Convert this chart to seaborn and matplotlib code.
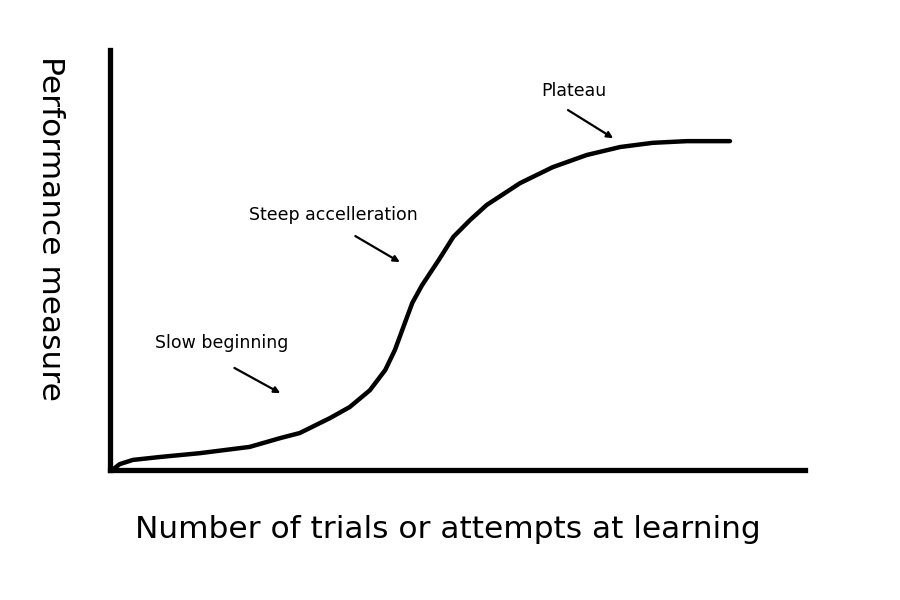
import matplotlib
matplotlib.use("Agg")
import matplotlib.pyplot as plt
import seaborn as sns
import pandas as pd

# Learning curve values (trials %, performance %)
trials = [0.3, 1.4, 3.3, 7.2, 12.9, 20.1, 24.5, 27.3, 31.7, 34.5, 37.4, 39.6, 41.0,
          42.2, 43.5, 44.9, 47.3, 49.4, 51.8, 54.2, 59.0, 63.7, 68.6, 73.4, 78.1, 83.0, 89.2]
performance = [0.0, 1.4, 2.4, 3.1, 4.0, 5.5, 7.6, 8.8, 12.4, 15.0, 19.0, 23.8, 28.6,
               34.0, 39.8, 44.0, 50.0, 55.5, 59.5, 63.1, 68.3, 72.1, 75.0, 76.9, 77.9, 78.3, 78.3]

annot_labels = ["Slow beginning", "Steep accelleration", "Plateau"]
annot_text_xy = [(6.5, 30.2), (20.0, 60.7), (62.0, 90.2)]
annot_tail_xy = [(17.9, 24.3), (35.3, 55.7), (65.9, 85.7)]
annot_head_xy = [(24.5, 18.3), (41.7, 49.5), (72.4, 79.0)]

x_label = "Number of trials or attempts at learning"
y_label = "Performance measure"

sns.set_theme(style="white")
plt.rcParams['font.family'] = ['DejaVu Sans']

fig = plt.figure(figsize=(9, 6), dpi=100)
ax = fig.add_axes([110/900, 130/600, 695/900, 420/600])

df = pd.DataFrame({"trials": trials, "performance": performance})
sns.lineplot(data=df, x="trials", y="performance", ax=ax, color="black",
             linewidth=3.2, sort=False, estimator=None)
ax.lines[0].set_solid_capstyle("round")
ax.lines[0].set_solid_joinstyle("round")

ax.set_xlim(0, 100)
ax.set_ylim(0, 100)
ax.set_xticks([])
ax.set_yticks([])
ax.set_xlabel("")
ax.set_ylabel("")
for side in ["top", "right"]:
    ax.spines[side].set_visible(False)
for side in ["left", "bottom"]:
    ax.spines[side].set_visible(True)
    ax.spines[side].set_color("black")
    ax.spines[side].set_linewidth(3.8)

for lab, txy, tail, head in zip(annot_labels, annot_text_xy, annot_tail_xy, annot_head_xy):
    ax.text(txy[0], txy[1], lab, fontsize=12.5, color="black", ha="left", va="center")
    ax.annotate("", xy=head, xytext=tail,
                arrowprops=dict(arrowstyle="-|>", color="black", lw=1.6,
                                mutation_scale=9, shrinkA=0, shrinkB=0))

fig.text(448/900, 1 - 530/600, x_label, fontsize=22.5, ha="center", va="center", color="black")
fig.text(50/900, 1 - 228/600, y_label, fontsize=22.5, ha="center", va="center",
         rotation=-90, color="black")

fig.savefig("out.png", dpi=100, facecolor="white")
